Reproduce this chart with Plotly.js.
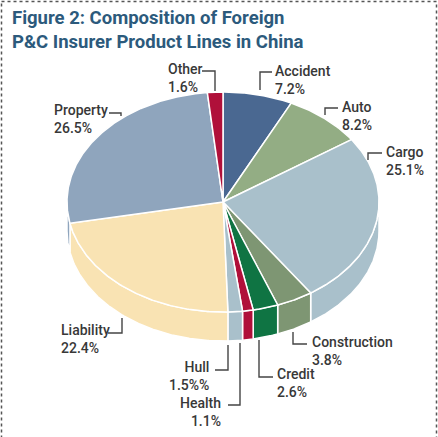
<!DOCTYPE html>
<html>
<head>
<meta charset="utf-8">
<script src="https://cdn.plot.ly/plotly-3.0.1.min.js"></script>
<style>
  html, body { margin: 0; padding: 0; background: #ffffff; }
  #chart { width: 438px; height: 437px; }
</style>
</head>
<body>
<div id="chart"></div>
<script>
// ---------------- DATA ----------------
const categories = ["Accident", "Auto", "Cargo", "Construction", "Credit", "Health", "Hull", "Liability", "Property", "Other"];
const shares = [7.2, 8.2, 25.1, 3.8, 2.6, 1.1, 1.5, 22.4, 26.5, 1.6];
const shareLabels = ["7.2%", "8.2%", "25.1%", "3.8%", "2.6%", "1.1%", "1.5%%", "22.4%", "26.5%", "1.6%"];
const titleLines = ["Figure 2: Composition of Foreign", "P&C Insurer Product Lines in China"];

// ---------------- STYLE / LAYOUT ----------------
const sliceColors = ["#4a6891", "#93ad84", "#a9c0cb", "#7e9673", "#0f7443", "#b0103a", "#a9c0cb", "#f9e3b3", "#8fa5bd", "#b0103a"];
const W = 438, H = 437;
const CX = 223, CY = 202, RA = 156, RB = 110, DEPTH = 29;
const LABEL_FONT = "Roboto, 'Liberation Sans', sans-serif";
const TITLE_FONT = "Roboto, 'Liberation Sans', sans-serif";
const LABEL_COLOR = "#383838";
const LINE_COLOR = "#444444";

// label placement per category (same order as categories): text anchor x, block centre y, anchor side
const labelPlace = [
  {x: 274, y: 79.5, anchor: "left"},
  {x: 341, y: 115.5, anchor: "left"},
  {x: 385, y: 161, anchor: "left"},
  {x: 311, y: 351, anchor: "left"},
  {x: 276, y: 383, anchor: "left"},
  {x: 222, y: 411.5, anchor: "right"},
  {x: 210, y: 376, anchor: "right"},
  {x: 60, y: 338.5, anchor: "left"},
  {x: 53, y: 119, anchor: "left"},
  {x: 167, y: 77.5, anchor: "left"}
];
const leaderPaths = [
  "M260,90 V72 H272",
  "M325,115 V108 H338",
  "M368,160 V153 H382",
  "M293,332 V344 H307",
  "M259,340 V377 H273",
  "M240,343 V405 H228",
  "M228,345 V370 H215",
  "M122,318 V333 H108",
  "M109,113 H121 V116",
  "M215,91 V71 H202"
];

// ---------------- GEOMETRY (from data) ----------------
const total = shares.reduce((s, v) => s + v, 0);
function pt(theta, dy) {
  return [CX + RA * Math.sin(theta), CY - RB * Math.cos(theta) + (dy || 0)];
}
const sideTraces = [], topTraces = [];
let acc = 0;
shares.forEach((v, i) => {
  const t0 = acc / total * 2 * Math.PI;
  const t1 = (acc + v) / total * 2 * Math.PI;
  acc += v;
  const xs = [CX], ys = [CY];
  const n = Math.max(3, Math.ceil((t1 - t0) / (Math.PI / 360)));
  for (let k = 0; k <= n; k++) {
    const p = pt(t0 + (t1 - t0) * k / n);
    xs.push(p[0]); ys.push(p[1]);
  }
  xs.push(CX); ys.push(CY);
  topTraces.push({
    type: "scatter", mode: "lines", x: xs, y: ys, fill: "toself",
    fillcolor: sliceColors[i], line: {color: "#ffffff", width: 1.5},
    name: categories[i], hoverinfo: "name", showlegend: false
  });
  const s0 = Math.max(t0, Math.PI / 2), s1 = Math.min(t1, 3 * Math.PI / 2);
  if (s1 > s0) {
    const sx = [], sy = [];
    const m = Math.max(3, Math.ceil((s1 - s0) / (Math.PI / 360)));
    for (let k = 0; k <= m; k++) {
      const p = pt(s0 + (s1 - s0) * k / m);
      sx.push(p[0]); sy.push(p[1]);
    }
    for (let k = m; k >= 0; k--) {
      const p = pt(s0 + (s1 - s0) * k / m, DEPTH);
      sx.push(p[0]); sy.push(p[1]);
    }
    sx.push(sx[0]); sy.push(sy[0]);
    sideTraces.push({
      type: "scatter", mode: "lines", x: sx, y: sy, fill: "toself",
      fillcolor: sliceColors[i], line: {color: "#ffffff", width: 1.5},
      hoverinfo: "skip", showlegend: false
    });
  }
});

// ---------------- ANNOTATIONS & SHAPES ----------------
const annotations = categories.map((c, i) => {
  const L = labelPlace[i];
  return {
    text: c + "<br>" + shareLabels[i], x: L.x, y: L.y, xref: "x", yref: "y",
    xanchor: L.anchor, yanchor: "middle", align: L.anchor, showarrow: false, borderpad: 0,
    font: {family: LABEL_FONT, size: 14, color: LABEL_COLOR, weight: 500}
  };
});
const shapes = leaderPaths.map(p => ({
  type: "path", path: p, xref: "x", yref: "y",
  line: {color: LINE_COLOR, width: 1.4}
}));
shapes.push({
  type: "rect", xref: "x", yref: "y", x0: 1.5, x1: 436.5, y0: 1.5, y1: 460,
  line: {color: "#555555", width: 1.5, dash: "dot"}, fillcolor: "rgba(0,0,0,0)"
});

const layout = {
  width: W, height: H,
  margin: {l: 0, r: 0, t: 0, b: 0, pad: 0},
  paper_bgcolor: "#ffffff", plot_bgcolor: "#ffffff",
  title: {
    text: titleLines.join("<br>"),
    xref: "container", yref: "container",
    x: 12 / W, xanchor: "left",
    y: 1 - 24 / H, yanchor: "top",
    font: {family: TITLE_FONT, size: 18.5, color: "#2c5a7c", weight: "bold"}
  },
  xaxis: {range: [0, W], visible: false, fixedrange: true},
  yaxis: {range: [H, 0], visible: false, fixedrange: true},
  annotations: annotations,
  shapes: shapes,
  showlegend: false
};

Plotly.newPlot("chart", sideTraces.concat(topTraces), layout, {displayModeBar: false, staticPlot: true});
</script>
</body>
</html>
